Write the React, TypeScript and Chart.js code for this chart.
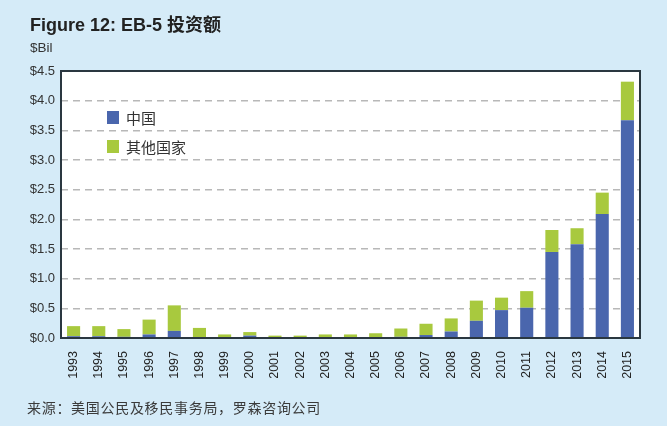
import React, { useEffect, useRef } from "react";
import { Chart, registerables } from "chart.js";

Chart.register(...registerables);

// EB-5 investment by year, in billions of US dollars
const years = [
  "1993", "1994", "1995", "1996", "1997", "1998", "1999", "2000", "2001", "2002", "2003", "2004",
  "2005", "2006", "2007", "2008", "2009", "2010", "2011", "2012", "2013", "2014", "2015",
];
const chinaValues = [
  0.03, 0.03, 0.02, 0.06, 0.12, 0.01, 0.0, 0.04, 0.0, 0.0, 0.01, 0.01,
  0.01, 0.02, 0.05, 0.11, 0.29, 0.47, 0.51, 1.45, 1.58, 2.09, 3.67,
];
const otherValues = [
  0.17, 0.17, 0.13, 0.25, 0.43, 0.16, 0.06, 0.06, 0.04, 0.04, 0.05, 0.05,
  0.07, 0.14, 0.19, 0.22, 0.34, 0.21, 0.28, 0.37, 0.27, 0.36, 0.65,
];
const seriesNames = ["中国", "其他国家"];
const yTickValues = [0, 0.5, 1, 1.5, 2, 2.5, 3, 3.5, 4, 4.5];

const BLUE = "#4a66ad";
const GREEN = "#a8c93e";
const BG = "#d5ebf8";
const FRAME = "#2a3740";
const FONT = "'Liberation Sans', 'Noto Sans CJK SC', Arial, sans-serif";

// white plot background and dark frame around the chart area
const framePlugin = {
  id: "plotFrame",
  beforeDraw(chart: any) {
    const { ctx, chartArea } = chart;
    ctx.save();
    ctx.fillStyle = "#ffffff";
    ctx.fillRect(chartArea.left, chartArea.top, chartArea.right - chartArea.left, chartArea.bottom - chartArea.top);
    ctx.restore();
  },
  afterDraw(chart: any) {
    const { ctx, chartArea } = chart;
    ctx.save();
    ctx.strokeStyle = FRAME;
    ctx.lineWidth = 2;
    ctx.strokeRect(chartArea.left, chartArea.top, chartArea.right - chartArea.left, chartArea.bottom - chartArea.top);
    ctx.restore();
  },
};

export default function App() {
  const canvasRef = useRef<HTMLCanvasElement | null>(null);

  useEffect(() => {
    if (!canvasRef.current) return;
    const chart = new Chart(canvasRef.current, {
      type: "bar",
      data: {
        labels: years,
        datasets: [
          {
            label: seriesNames[0],
            data: chinaValues,
            backgroundColor: BLUE,
            barPercentage: 0.52,
            categoryPercentage: 1,
          },
          {
            label: seriesNames[1],
            data: otherValues,
            backgroundColor: GREEN,
            barPercentage: 0.52,
            categoryPercentage: 1,
          },
        ],
      },
      options: {
        responsive: false,
        animation: false,
        layout: { padding: { left: 0, top: 71, right: 27, bottom: 48 } },
        plugins: {
          legend: { display: false },
          tooltip: { enabled: false },
        },
        scales: {
          x: {
            stacked: true,
            grid: { display: false, drawTicks: false },
            border: { display: false },
            ticks: {
              minRotation: 90,
              maxRotation: 90,
              autoSkip: false,
              padding: 13,
              color: "#222",
              font: { family: FONT, size: 12.5 },
            },
            afterFit(scale: any) {
              scale.height = 40;
            },
          },
          y: {
            stacked: true,
            min: 0,
            max: 4.5,
            afterBuildTicks(scale: any) {
              scale.ticks = yTickValues.map((v) => ({ value: v }));
            },
            grid: {
              drawTicks: false,
              lineWidth: 1.5,
              color: (c: any) =>
                c.tick && (c.tick.value === 0 || c.tick.value === 4.5) ? "rgba(0,0,0,0)" : "#b8b8b8",
            },
            border: { display: false, dash: [7, 5] },
            ticks: {
              padding: 6,
              color: "#333",
              font: { family: FONT, size: 13 },
              callback: (v: any) => "$" + Number(v).toFixed(1),
            },
            afterFit(scale: any) {
              scale.width = 61;
            },
          },
        },
      },
      plugins: [framePlugin],
    });
    return () => chart.destroy();
  }, []);

  const legendItems = [
    { name: seriesNames[0], color: BLUE, top: 109 },
    { name: seriesNames[1], color: GREEN, top: 138 },
  ];

  return (
    <div
      style={{
        position: "fixed",
        left: 0,
        top: 0,
        width: 667,
        height: 426,
        background: BG,
        fontFamily: FONT,
        overflow: "hidden",
      }}
    >
      <canvas ref={canvasRef} width={667} height={426} style={{ position: "absolute", left: 0, top: 0, width: 667, height: 426 }} />
      <div style={{ position: "absolute", left: 30, top: 10, fontSize: 18, fontWeight: "bold", color: "#222", whiteSpace: "nowrap" }}>
        Figure 12: EB-5 投资额
      </div>
      <div style={{ position: "absolute", left: 30, top: 40, fontSize: 13.5, color: "#333" }}>$Bil</div>
      {legendItems.map((it) => (
        <div
          key={it.name}
          style={{ position: "absolute", left: 107, top: it.top, height: 16, display: "flex", alignItems: "center", whiteSpace: "nowrap" }}
        >
          <span style={{ display: "inline-block", width: 12, height: 13, background: it.color, marginRight: 7 }} />
          <span style={{ fontSize: 15, color: "#333" }}>{it.name}</span>
        </div>
      ))}
      <div style={{ position: "absolute", left: 27, top: 397, fontSize: 14, letterSpacing: 0.7, color: "#3a3a3a", whiteSpace: "nowrap" }}>
        来源：美国公民及移民事务局，罗森咨询公司
      </div>
    </div>
  );
}
